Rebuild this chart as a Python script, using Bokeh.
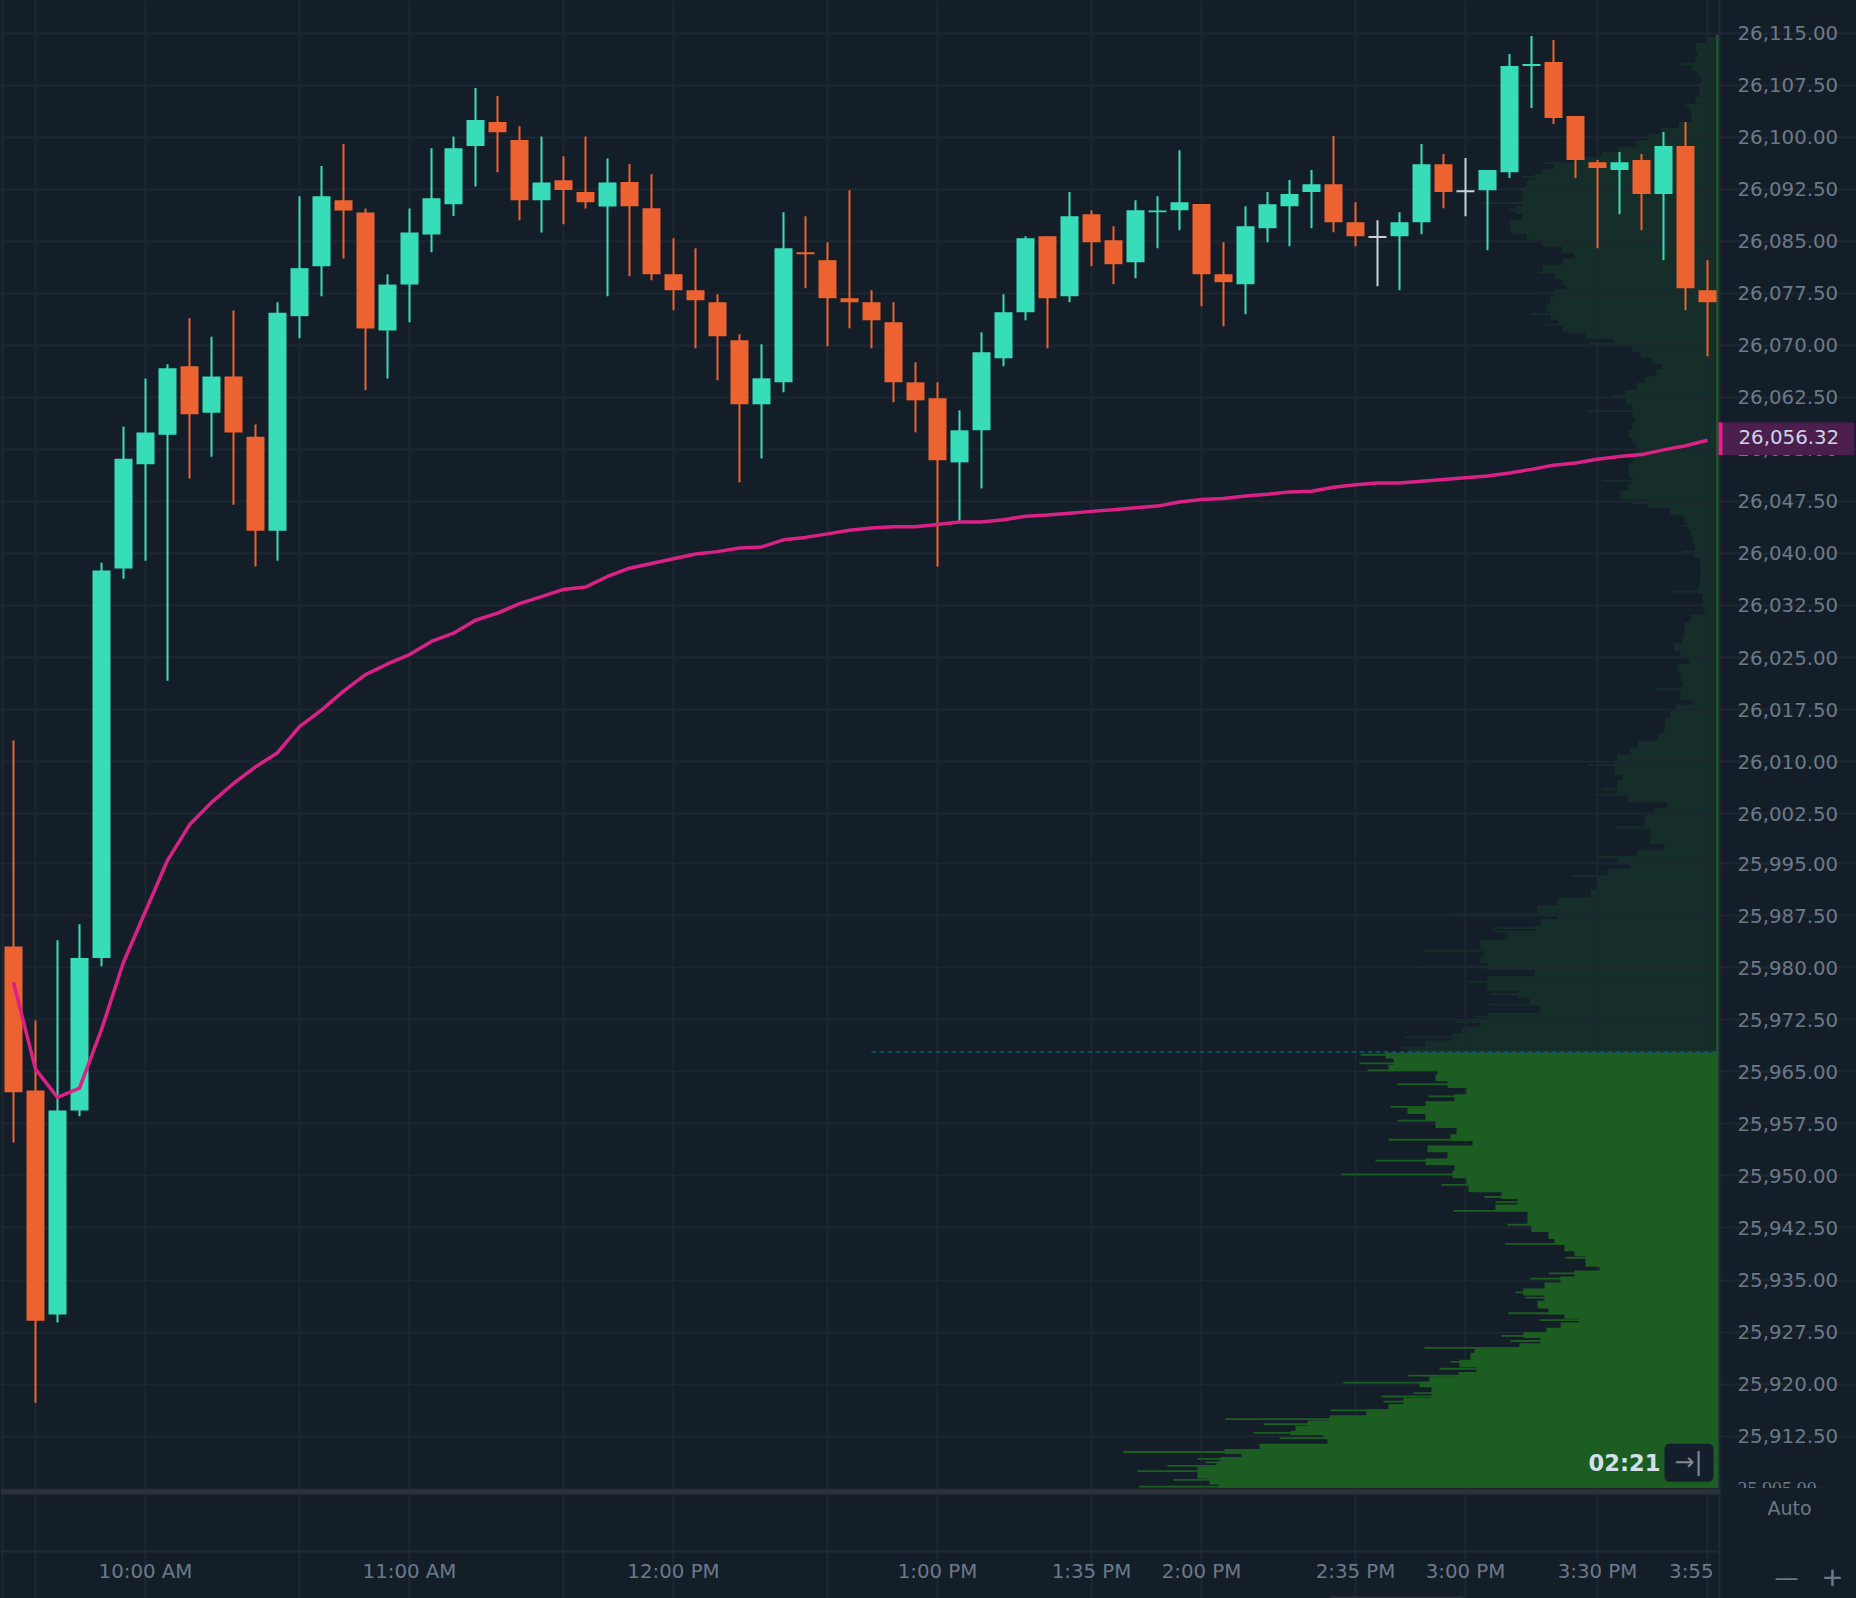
from bokeh.plotting import figure
from bokeh.layouts import column
from bokeh.models import Range1d, FixedTicker, Grid, Label, BoxAnnotation, LinearAxis
from bokeh.embed import file_html
from bokeh.resources import INLINE
import numpy as np

# ---------- candles (5 min bars) ----------
opens = [25983.37,25962.61,25930.32,25959.73,25981.68,26037.83,26052.84,26057.11,26066.98,26060.28,
         26065.5,26056.82,26043.28,26074.19,26081.4,26090.9,26089.13,26072.13,26078.75,26085.96,
         26090.31,26098.7,26102.16,26099.58,26090.9,26093.77,26092.07,26090.01,26093.51,26089.76,
         26080.24,26077.93,26076.2,26070.72,26061.49,26064.66,26083.41,26082.26,26076.78,26076.2,
         26073.32,26064.66,26062.35,26053.12,26057.74,26068.12,26074.76,26085.72,26077.07,26088.89,
         26085.14,26081.97,26089.18,26089.47,26090.34,26080.24,26078.8,26086.87,26090.05,26092.07,
         26093.22,26087.74,26085.6,26085.72,26087.74,26096.1,26092.2,26092.35,26094.95,26110.24,
         26110.82,26103.03,26096.39,26095.24,26096.68,26091.78,26098.7,26077.93]
closes = [25962.36,25929.43,25959.73,25981.68,26037.54,26053.65,26057.41,26066.68,26060.06,26065.5,
          26057.41,26043.28,26074.7,26081.11,26091.48,26089.42,26072.42,26078.75,26086.26,26091.19,
          26098.4,26102.45,26100.68,26090.9,26093.47,26092.37,26090.6,26093.47,26090.05,26080.24,
          26077.93,26076.49,26071.3,26061.49,26065.24,26083.99,26083.12,26076.78,26076.2,26073.6,
          26064.66,26062.06,26053.41,26057.74,26068.99,26074.76,26085.43,26076.78,26088.6,26084.85,
          26081.68,26089.47,26089.42,26090.62,26080.24,26079.09,26087.16,26090.33,26091.78,26093.22,
          26087.74,26085.72,26085.6,26087.74,26096.1,26092.07,26092.2,26095.24,26110.24,26110.53,
          26102.74,26096.68,26095.53,26096.39,26091.78,26098.7,26078.22,26076.2]
highs = [26013.03,25972.69,25984.26,25986.55,26038.64,26058.29,26065.21,26067.27,26073.89,26071.24,
         26075.0,26058.59,26076.18,26091.48,26095.83,26099.0,26089.72,26080.22,26089.72,26098.4,
         26100.1,26107.09,26105.91,26101.57,26100.1,26097.23,26100.1,26096.93,26096.11,26094.66,
         26085.43,26083.99,26077.35,26071.58,26070.14,26089.18,26088.6,26084.85,26092.35,26077.93,
         26076.2,26067.55,26064.66,26060.62,26071.87,26077.35,26085.72,26085.72,26092.07,26089.47,
         26087.16,26090.91,26091.49,26098.12,26090.34,26084.85,26090.05,26092.07,26093.8,26095.24,
         26100.14,26090.62,26088.03,26089.18,26098.99,26097.55,26096.97,26095.24,26111.97,26114.57,
         26113.99,26103.03,26096.68,26097.84,26097.55,26100.72,26102.16,26082.26]
lows = [25955.11,25917.61,25929.18,25958.88,25980.49,26036.36,26038.93,26021.64,26050.78,26053.95,
        26047.03,26038.13,26038.93,26071.02,26077.06,26082.51,26063.52,26065.21,26073.31,26083.39,
        26088.61,26092.88,26094.94,26088.03,26086.26,26087.44,26089.72,26077.06,26079.95,26079.37,
        26075.05,26069.56,26064.95,26050.24,26053.7,26063.22,26078.22,26069.85,26072.45,26069.56,
        26061.78,26057.45,26038.12,26044.47,26049.37,26066.97,26073.6,26069.56,26076.2,26081.39,
        26078.8,26079.66,26083.99,26086.59,26075.62,26072.74,26074.47,26084.85,26084.28,26086.87,
        26086.3,26084.28,26078.51,26077.93,26086.01,26089.76,26088.6,26083.7,26094.09,26104.18,
        26101.87,26094.09,26083.99,26088.89,26086.59,26082.26,26075.05,26068.41]

# ---------- VWAP ----------
vwap = [25978.2,25965.69,25961.61,25962.95,25971.4,25981.08,25988.44,25995.77,26000.89,26004.12,
        26006.85,26009.24,26011.28,26015.03,26017.42,26020.15,26022.53,26024.07,26025.43,26027.31,
        26028.5,26030.37,26031.4,26032.76,26033.78,26034.81,26035.15,26036.68,26037.87,26038.56,
        26039.24,26039.92,26040.26,26040.77,26040.94,26041.96,26042.31,26042.82,26043.33,26043.67,
        26043.84,26043.84,26044.18,26044.52,26044.52,26044.86,26045.37,26045.54,26045.8,26046.06,
        26046.31,26046.57,26046.82,26047.42,26047.76,26047.93,26048.27,26048.53,26048.87,26048.95,
        26049.55,26049.89,26050.15,26050.15,26050.4,26050.66,26050.91,26051.17,26051.6,26052.11,
        26052.7,26053.04,26053.56,26053.98,26054.24,26054.92,26055.52,26056.32]
vwap_last = 26056.32

# ---------- volume profile: body rows ----------
vp_price = [26114.75,26114,26113,26112,26111,26110,26109.25,26108.25,26107.25,26106.25,26105.25,26104.25,26103.5,26102.5,
    26101.75,26100.75,26100,26099,26098,26097.5,26096.75,26095.75,26095,26094.25,26093.25,26092.25,26091.5,26090.5,26089.5,
    26088.5,26087.5,26086.5,26085.75,26084.75,26083.75,26083,26082,26081,26080,26079,26078.5,26077.5,26076.5,26075.5,26074.25,
    26073.25,26072.5,26071.5,26070.5,26069.5,26068.75,26067.75,26067,26066,26065,26064,26063,26062,26061,26060,26059.25,26058.25,
    26057.25,26056.25,26055.25,26054.5,26053.5,26052.5,26051.5,26050.5,26049.5,26048.5,
    26047.25,26046,26045,26044,26043,26042,26041,26040,26038.75,26037.75,26036.75,26035.75,26034.75,26033.75,26032.75,26031.75,
    26030.5,26029.5,26028.5,26027.5,26026.5,26025.5,26024.5,26023.5,26022.25,26021.25,26020.25,26019.25,26018.5,26017.75,26016.75,
    26015.75,26014.5,26013.5,26012.5,26011.5,26010.5,26009.5,26008.5,26007.75,26006.75,26005.75,26004.75,26003.75,26002.75,26001.75,
    26000.75,25999.75,25998.5,25997.75,25996.75,25995.75,25995,25994,25993,25992,25991,25989.75,25988.75,25987.75,25986.75,25985.75,
    25984.75,25983.75,25982.5,25981.5,25980.5,25979.5,25978.5,25977.5,25976.5,25975.5,25974.25,25973.25,25972.25,25971.25,25970.25,
    25969.25,25968.25,
    25967.75,25966.75,25965.75,25965.25,25964.5,25963.5,25962.5,25961.5,25960.5,25959.75,25958.75,25957.75,25956.75,25955.75,25955,
    25954.25,25953.25,25952.25,25951.5,25950.5,25949.5,25948.5,25947.5,25946.5,25945.75,25944.75,25943.75,25942.75,25941.75,25940.75,
    25940,25939,25938.5,25937.5,25937,25936.25,25935.25,25934.5,25933.5,25932.75,25931.75,25930.75,25930,25929.5,25928.75,25928,
    25927.5,25926.5,25925.75,25925.25,25924.25,25923.25,25922.25,25921.75,25921,25920.25,25919.5,25918.75,25917.75,25917,25916.25,
    25915.25,25914.75,25913.75,25913.25,25912.75,25912,25911.25,25910.5,25910,25909.5,25908.75,25908,25907.25,25906.25,25905.5]
vp_volume = [2,10,22,20,22,26,20,16,18,18,22,29,26,26,
    39,57,69,81,100,116,143,163,175,183,191,195,195,195,202,
    195,207,207,191,175,155,143,155,175,163,155,151,163,167,171,167,
    159,155,132,104,85,77,65,55,61,73,81,92,92,85,85,83,85,
    89,85,81,81,85,89,89,85,89,97,
    70,47,33,30,27,25,23,23,18,17,17,18,20,15,15,13,
    27,33,33,35,43,37,28,40,37,35,37,37,25,42,47,
    52,53,60,80,87,100,103,103,95,100,100,90,50,63,72,
    73,67,67,53,80,100,87,110,120,120,127,160,180,160,177,183,
    210,237,233,237,230,183,230,230,200,188,177,230,237,255,265,
    292,310,
    332,324,329,280,282,270,251,263,292,310,292,282,261,267,245,
    290,270,292,263,265,251,249,216,200,222,190,190,186,169,163,
    153,143,132,132,118,143,157,173,194,173,180,169,153,139,157,171,
    194,177,198,243,247,258,241,259,288,298,286,286,314,329,351,
    388,410,422,427,394,390,458,493,476,497,501,520,520,508,499]

# ---------- volume profile: thin single-tick spikes ----------
spike_price = [26110.5,26104.5,26100.25,26096.25,26094.25,26092.5,26090.5,26089.5,26087.5,26080.5,26077.5,26074.5,26073,26071.75,26070.25,
    26062.75,26060.5,26050.5,26048.75,26047.25,26044,26040.25,26034.5,26020.5,26009.5,26006,26005.25,26000.5,25996.25,25993.5,25990.25,
    25988,25986,25985.5,25982.75,25980.5,25978.25,25976.5,25975,25973.25,25972.5,25970.25,25968.75,
    25967.75,25966.5,25965.5,25963.5,25961.75,25960.25,25958.25,25955.5,25952.5,25950.5,25949,25947.25,25946.5,25945.25,25943.25,25940.5,
    25938.5,25936.25,25935.5,25933.5,25932.75,25930.5,25929.5,25927.25,25926.5,25925.5,25923.5,25922.5,25921.5,25920.5,25919,25918.5,
    25917.75,25916.5,25915.25,25914.5,25913.25,25912.5,25910.5,25909.5,25909,25908.5,25907.75,25906.5,25905.5]
spike_volume = [39,33,71,173,195,216,235,209,209,179,175,187,174,150,129,
    105,131,115,98,85,35,35,47,63,129,115,123,103,119,147,151,
    267,225,223,293,297,249,227,229,243,262,313,317,
    357,358,350,320,289,327,320,329,342,376,276,233,222,264,210,212,
    152,169,187,202,192,209,178,216,207,293,267,278,309,374,304,336,
    334,387,492,454,464,438,594,520,512,550,580,544,578]
vp_split_price = 25968.15          # session value boundary (bright below, dim above)

# ---------- axis labels ----------
price_ticks = [26115-7.5*k for k in range(29)]
time_ticks = [-0.5,1,6,13,18,25,30,37,42,49,54,61,66,72,77]
time_labels = {6:"10:00 AM",18:"11:00 AM",30:"12:00 PM",42:"1:00 PM",49:"1:35 PM",54:"2:00 PM",
               61:"2:35 PM",66:"3:00 PM",72:"3:30 PM"}
last_time_label = "3:55"
poc_start_bar = 39

# ---------- styles ----------
BG="#141e29"; GRID="#1c2731"; AXIS="#222b35"; TXT="#6c7988"
TEAL="#37ddb9"; ORANGE="#ec6231"; WHITE="#c9cfda"; MAG="#dc2186"
DIM="#162e29"; BRIGHT="#1c5e22"; EDGE="#1f5e25"
FONT="DejaVu Sans"; FS="19.8px"
PX_PER_BAR=22.0; LEFT_PX=13.0; PLOT_W=1719; FULL_W=1856; FRAME_H=1488; STRIP_H=110; STRIP_AXIS=47
PRICE_PX=6.939; Y_TOP=26115+32.5/PRICE_PX; Y_BOT=Y_TOP-FRAME_H/PRICE_PX
JOG=0.29   # the reference's axis loses about 2 px between 26,002.50 and 25,995.00

def bar_x(px): return (px-LEFT_PX)/PX_PER_BAR
x_range=Range1d(bar_x(0),bar_x(FULL_W))
X_EDGE=bar_x(PLOT_W)
DARK={"background-color":BG}

p=figure(frame_width=FULL_W,frame_height=FRAME_H,x_range=x_range,y_range=Range1d(Y_BOT,Y_TOP),
         output_backend="svg",toolbar_location=None,x_axis_location=None,y_axis_location=None,
         min_border_left=0,min_border_top=0,min_border_bottom=0,min_border_right=0,
         background_fill_color=BG,border_fill_color=BG,outline_line_color=None,styles=DARK)
p.extra_x_ranges={"vol":Range1d(1717,1717-FULL_W)}
p.grid.visible=False

tick_pos=[t+(JOG if t<26000 else 0) for t in price_ticks]
yt=FixedTicker(ticks=tick_pos)
ax=LinearAxis(fixed_location=X_EDGE,ticker=yt)
ax.major_label_overrides={pos:(f"{t:,.2f}" if t>25905 else "") for pos,t in zip(tick_pos,price_ticks)}
ax.axis_line_color=AXIS; ax.axis_line_width=2
ax.major_tick_line_color=AXIS; ax.major_tick_out=7; ax.major_tick_in=0; ax.minor_tick_line_color=None
ax.major_label_standoff=11; ax.major_label_text_color=TXT
ax.major_label_text_font=FONT; ax.major_label_text_font_size=FS
p.add_layout(ax,"right")
p.add_layout(Grid(dimension=1,ticker=yt,grid_line_color=GRID,grid_line_width=2,bounds=(bar_x(0),X_EDGE)))
p.add_layout(Grid(dimension=0,ticker=FixedTicker(ticks=time_ticks),grid_line_color=GRID,grid_line_width=2))

# last tick label: cut by the pane's lower edge, as in the reference
p.text(x=[bar_x(1737)],y=[tick_pos[-1]],text=[f"{price_ticks[-1]:,.2f}"],text_color=TXT,text_font=FONT,
       text_font_size=FS,text_baseline="middle")

# volume profile
vp_p=np.array(vp_price); vp_v=np.array(vp_volume,float)
edges=(vp_p[:-1]+vp_p[1:])/2
tops=np.r_[vp_p[0]+0.15,edges]; bots=np.r_[edges,vp_p[-1]-0.7]
heights=tops-bots; mids=(tops+bots)/2
sp_p=np.array(spike_price); sp_v=np.array(spike_volume,float)
is_dim=mids>vp_split_price; sp_dim=sp_p>vp_split_price
# the dim part sits below the grid, the bright part above it
p.hbar(y=mids[is_dim],height=heights[is_dim]+0.1,left=0,right=vp_v[is_dim],fill_color=DIM,line_color=None,
       x_range_name="vol",level="image")
p.hbar(y=sp_p[sp_dim],height=0.26,left=0,right=sp_v[sp_dim],fill_color=DIM,line_color=None,
       x_range_name="vol",level="image")
p.hbar(y=mids[~is_dim],height=heights[~is_dim]+0.1,left=0,right=vp_v[~is_dim],fill_color=BRIGHT,line_color=None,
       x_range_name="vol")
p.hbar(y=sp_p[~sp_dim],height=0.26,left=0,right=sp_v[~sp_dim],fill_color=BRIGHT,line_color=None,x_range_name="vol")
p.segment(x0=[0],x1=[0],y0=[26114.75],y1=[Y_BOT],line_color=EDGE,line_width=2.4,x_range_name="vol")

# POC dashed line
poc=p.segment(x0=[poc_start_bar],x1=[bar_x(PLOT_W-2)],y0=[vp_split_price],y1=[vp_split_price],
          line_color="#0e5c76",line_width=1.6)
poc.glyph.line_dash=[5,3]

# candles
idx=np.arange(len(opens)); o=np.array(opens); c=np.array(closes)
col=[WHITE if a==b else (TEAL if b>a else ORANGE) for a,b in zip(o,c)]
p.segment(x0=idx,x1=idx,y0=lows,y1=highs,line_color=col,line_width=2)
btop=np.maximum(o,c); bbot=np.minimum(o,c)
flat=btop==bbot; btop=btop+flat*0.14; bbot=bbot-flat*0.14
p.vbar(x=idx,width=18/PX_PER_BAR,top=btop,bottom=bbot,fill_color=col,line_color=None)

# VWAP
p.line(idx,vwap,line_color=MAG,line_width=3.5,line_join="round")

# price tag
p.add_layout(BoxAnnotation(left=1719,right=1854,left_units="screen",right_units="screen",
             top=vwap_last+2.55,bottom=vwap_last-2.15,fill_color="#4a1f4e",fill_alpha=1,line_color=None))
p.add_layout(BoxAnnotation(left=1718,right=1722,left_units="screen",right_units="screen",
             top=vwap_last+2.55,bottom=vwap_last-2.15,fill_color="#e0218a",fill_alpha=1,line_color=None))
p.add_layout(Label(x=1738,y=vwap_last+0.45,x_units="screen",text=f"{vwap_last:,.2f}",text_color="#cdd4e4",
                   text_font=FONT,text_font_size=FS,text_baseline="middle"))

# countdown and scroll button
p.add_layout(BoxAnnotation(left=1664,right=1713,left_units="screen",right_units="screen",
             top=25911.7,bottom=25906.2,fill_color="#151f2b",fill_alpha=1,line_color=None,border_radius=5))
p.add_layout(Label(x=1588,y=25908.9,x_units="screen",text="02:21",text_color="#d3e0ec",
                   text_font=FONT,text_font_size="22.6px",text_font_style="bold",text_baseline="middle"))
p.add_layout(Label(x=1688,y=25909.1,x_units="screen",text="→|",text_color="#7f8a96",text_align="center",
                   text_font=FONT,text_font_size="24px",text_baseline="middle"))

# time axis strip
q=figure(frame_width=FULL_W,frame_height=STRIP_H,x_range=x_range,y_range=Range1d(0,STRIP_H),
         output_backend="svg",toolbar_location=None,y_axis_location=None,x_axis_location=None,
         min_border_left=0,min_border_top=0,min_border_bottom=0,min_border_right=0,
         background_fill_color=BG,border_fill_color=BG,outline_line_color=None,styles=DARK)
q.grid.visible=False
xt=FixedTicker(ticks=time_ticks)
bx=LinearAxis(fixed_location=STRIP_AXIS,ticker=xt)
bx.major_label_overrides={t:time_labels.get(t,"") for t in time_ticks}
bx.bounds=(bar_x(0),X_EDGE)
bx.axis_line_color=AXIS; bx.axis_line_width=2
bx.major_tick_line_color=AXIS; bx.major_tick_out=7; bx.major_tick_in=0; bx.minor_tick_line_color=None
bx.major_label_standoff=1; bx.major_label_text_color=TXT
bx.major_label_text_font=FONT; bx.major_label_text_font_size=FS
q.add_layout(bx,"below")
q.add_layout(Grid(dimension=0,ticker=xt,grid_line_color=GRID,grid_line_width=2,bounds=(STRIP_AXIS,STRIP_H)))
q.segment(x0=[X_EDGE],x1=[X_EDGE],y0=[0],y1=[STRIP_H],line_color=AXIS,line_width=2)
q.add_layout(BoxAnnotation(left=0,right=1720,left_units="screen",right_units="screen",
             bottom=STRIP_H-6,top=STRIP_H,fill_color="#2a3138",fill_alpha=1,line_color=None))
q.add_layout(BoxAnnotation(left=1330,right=1463,left_units="screen",right_units="screen",
             bottom=0,top=2,fill_color="#2a3138",fill_alpha=1,line_color=None))
q.add_layout(Label(x=1713,y=27,x_units="screen",text=last_time_label,text_color=TXT,text_align="right",
                   text_font=FONT,text_font_size=FS,text_baseline="middle"))
q.add_layout(Label(x=1789,y=91,x_units="screen",text="Auto",text_color="#6d7885",text_align="center",
                   text_font=FONT,text_font_size="19px",text_baseline="middle"))
q.add_layout(Label(x=1786,y=21,x_units="screen",text="—",text_color="#6d7885",text_align="center",
                   text_font=FONT,text_font_size="24px",text_baseline="middle"))
q.add_layout(Label(x=1832,y=21,x_units="screen",text="+",text_color="#6d7885",text_align="center",
                   text_font="Liberation Sans",text_font_size="34px",text_baseline="middle"))

page=column(p,q,spacing=0,margin=0,styles=DARK)
open("out.html","w").write(file_html(page,INLINE))
